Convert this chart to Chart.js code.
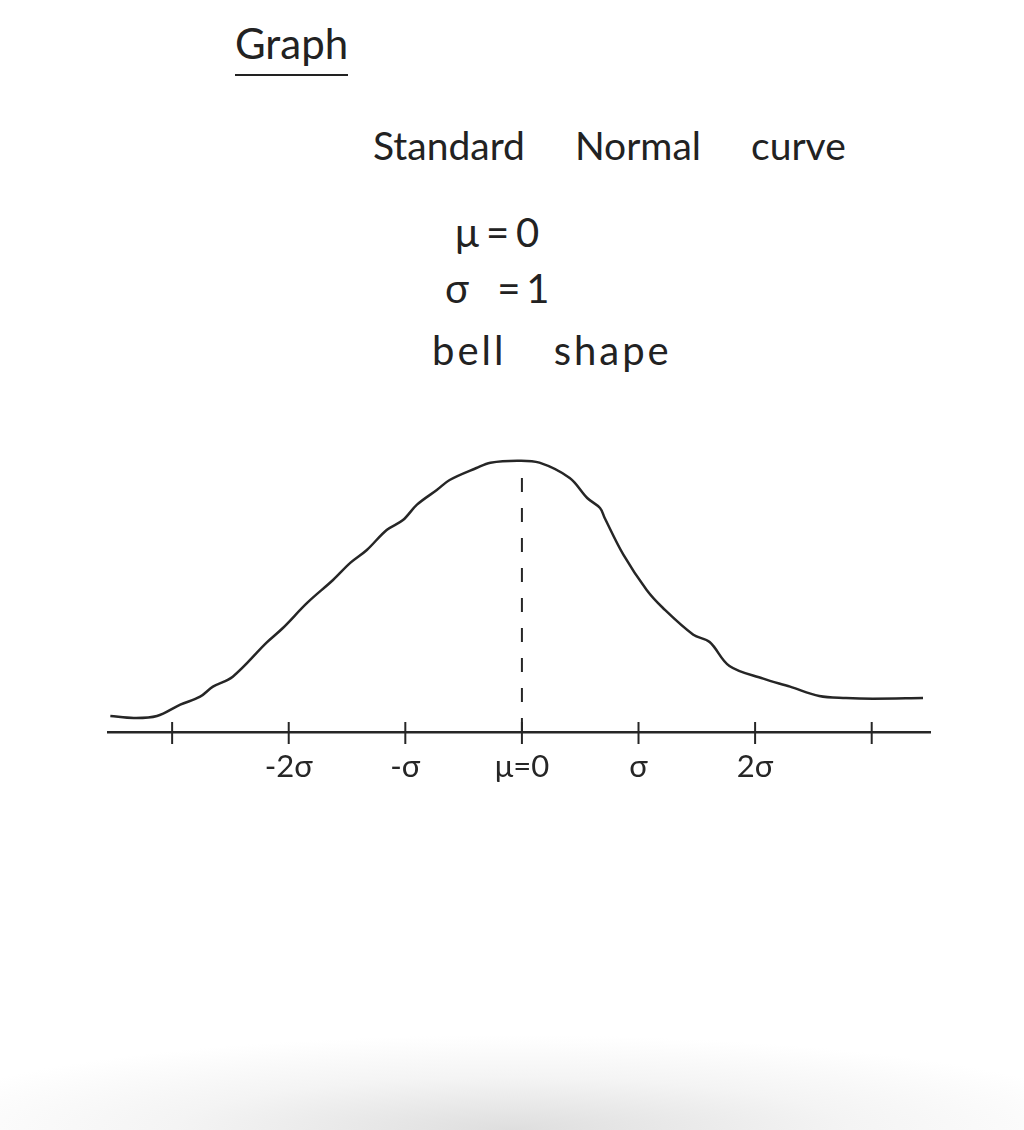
<!DOCTYPE html>
<html>
<head>
<meta charset="utf-8">
<script src="https://cdn.jsdelivr.net/npm/chart.js@4.4.1/dist/chart.umd.min.js"></script>
<style>
  html, body { margin: 0; padding: 0; }
  body {
    width: 1024px; height: 1130px; position: relative; overflow: hidden;
    background: radial-gradient(ellipse 60% 95px at 50% 100%, #dedede 0%, #f4f4f4 55%, #ffffff 100%);
    font-family: "Lato", "Open Sans", "DejaVu Sans", sans-serif; color: #222;
  }
  .note { position: absolute; line-height: 1; white-space: nowrap; }
  #graph { left: 235px; top: 22px; font-size: 42px; padding-bottom: 10px; border-bottom: 2px solid #222; }
  #title { left: 373px; top: 126px; font-size: 39px; word-spacing: 40px; }
  #mu { left: 455px; top: 212px; font-size: 40px; letter-spacing: 7px; }
  #sigma { left: 445px; top: 268px; font-size: 40px; letter-spacing: 6px; word-spacing: 6px; }
  #bell { left: 432px; top: 330px; font-size: 40px; letter-spacing: 3px; word-spacing: 34px; }
  #wrap { position: absolute; left: 0; top: 400px; width: 1024px; height: 420px; }
</style>
</head>
<body>
<div class="note" id="graph">Graph</div>
<div class="note" id="title">Standard Normal curve</div>
<div class="note" id="mu">μ=0</div>
<div class="note" id="sigma">σ =1</div>
<div class="note" id="bell">bell shape</div>
<div id="wrap"><canvas id="normalchart"></canvas></div>

<script>
// curve: x in sigma units, y = height above the axis
const curveX = [-3.53, -3.33, -3.13, -2.93, -2.76, -2.65, -2.48, -2.19, -2.05, -1.84,
  -1.62, -1.47, -1.33, -1.16, -1.02, -0.90, -0.73, -0.62, -0.39, -0.27,
  -0.04, 0.15, 0.41, 0.56, 0.67, 0.71, 0.87, 1.07, 1.21, 1.47,
  1.61, 1.78, 2.07, 2.30, 2.55, 2.78, 3.01, 3.44];
const curveY = [0.024, 0.021, 0.024, 0.041, 0.053, 0.068, 0.083, 0.134, 0.156, 0.194,
  0.228, 0.254, 0.273, 0.303, 0.318, 0.341, 0.363, 0.378, 0.396, 0.404,
  0.407, 0.404, 0.381, 0.351, 0.336, 0.321, 0.266, 0.213, 0.186, 0.146,
  0.135, 0.099, 0.080, 0.068, 0.054, 0.051, 0.050, 0.051];

// dashed line at the mean
const meanX = [0, 0];
const meanY = [0, 0.40];

const tickValues = [-3, -2, -1, 0, 1, 2, 3];
const tickLabels = ["", "-2σ", "-σ", "μ=0", "σ", "2σ", ""];

const ink = "#262626";

// tick marks that cross the axis, like the hand drawn ones
const crossTicks = {
  id: "crossTicks",
  afterDraw(chart) {
    const { ctx, scales: { x }, chartArea } = chart;
    ctx.save();
    ctx.strokeStyle = ink;
    ctx.lineWidth = 2;
    tickValues.forEach((v) => {
      const px = x.getPixelForValue(v);
      ctx.beginPath();
      ctx.moveTo(px, chartArea.bottom - 10);
      ctx.lineTo(px, chartArea.bottom + 12);
      ctx.stroke();
    });
    ctx.restore();
  },
};

const ctx = document.getElementById("normalchart").getContext("2d");
new Chart(ctx, {
  type: "line",
  data: {
    datasets: [
      {
        label: "Standard normal",
        data: curveX.map((x, i) => ({ x: x, y: curveY[i] })),
        borderColor: ink,
        borderWidth: 2.5,
        pointRadius: 0,
        tension: 0.35,
        fill: false,
      },
      {
        label: "mean",
        data: meanX.map((x, i) => ({ x: x, y: meanY[i] })),
        borderColor: ink,
        borderWidth: 2,
        borderDash: [14, 16],
        pointRadius: 0,
        fill: false,
      },
    ],
  },
  options: {
    responsive: true,
    maintainAspectRatio: false,
    animation: false,
    layout: { padding: { left: 108, right: 94, top: 32, bottom: 28 } },
    plugins: {
      legend: { display: false },
      tooltip: { enabled: false },
    },
    scales: {
      x: {
        type: "linear",
        min: -3.55,
        max: 3.5,
        afterBuildTicks: (scale) => {
          scale.ticks = tickValues.map((v) => ({ value: v }));
        },
        afterFit: (scale) => {
          scale.height = 60;
        },
        grid: { display: true, drawOnChartArea: false, drawTicks: false },
        border: { display: true, color: ink, width: 2.5 },
        ticks: {
          padding: 16,
          color: ink,
          font: { family: "Lato, 'Open Sans', sans-serif", size: 31 },
          callback: (value, index) => tickLabels[index],
        },
      },
      y: {
        display: false,
        min: 0,
        max: 0.45,
      },
    },
  },
  plugins: [crossTicks],
});
</script>
</body>
</html>
